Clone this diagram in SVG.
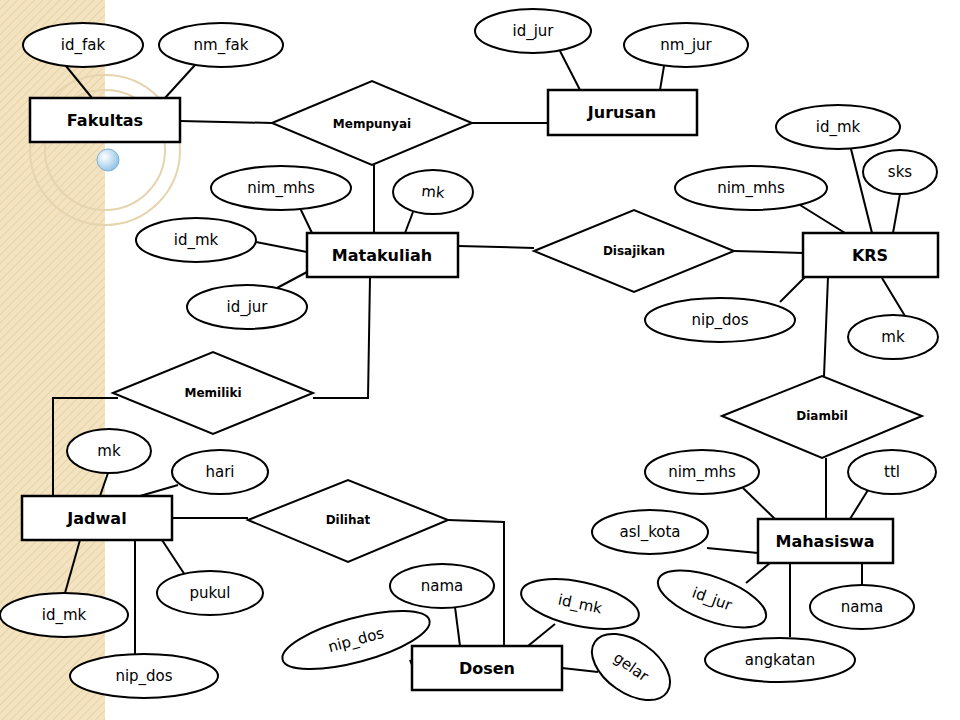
<svg xmlns="http://www.w3.org/2000/svg" width="960" height="720" viewBox="0 0 960 720">
<defs>
<pattern id="hatch" width="6" height="6" patternUnits="userSpaceOnUse" patternTransform="rotate(45)">
<rect width="6" height="6" fill="#f3e3c0"/><line x1="0" y1="0" x2="0" y2="6" stroke="#e8d3a6" stroke-width="2"/>
</pattern>
<radialGradient id="bub" cx="0.35" cy="0.35" r="0.7"><stop offset="0" stop-color="#ffffff"/><stop offset="1" stop-color="#8fc3e6"/></radialGradient>
</defs>
<style>
.ent{fill:#fff;stroke:#000;stroke-width:2.5}
.rel{fill:#fff;stroke:#000;stroke-width:2}
.att{fill:#fff;stroke:#000;stroke-width:2}
.et{font-family:"DejaVu Sans",sans-serif;font-weight:bold;font-size:16px;text-anchor:middle;dominant-baseline:central}
.rt{font-family:"DejaVu Sans",sans-serif;font-weight:bold;font-size:12px;text-anchor:middle;dominant-baseline:central}
.at{font-family:"DejaVu Sans",sans-serif;font-size:15px;text-anchor:middle;dominant-baseline:central}
#connectors line,#connectors polyline{stroke:#000;stroke-width:2;fill:none}
</style>
<rect width="960" height="720" fill="#fff"/>
<rect x="0" y="0" width="105" height="720" fill="url(#hatch)"/>
<g fill="none" stroke="#e6d4ae" stroke-width="2">
<circle cx="105" cy="150" r="75"/><circle cx="105" cy="150" r="60"/>
</g>
<circle cx="108" cy="160" r="11" fill="url(#bub)" stroke="#7fb0d6"/>
<g id="connectors">
<line x1="66" y1="66" x2="92" y2="98"/><line x1="195" y1="65" x2="165" y2="98"/>
<line x1="180" y1="121" x2="272" y2="123"/><line x1="472" y1="123" x2="548" y2="123"/>
<line x1="560" y1="51" x2="580" y2="90"/><line x1="664" y1="66" x2="660" y2="90"/>
<line x1="374" y1="165" x2="374" y2="233"/>
<line x1="413" y1="212" x2="405" y2="233"/><line x1="300" y1="208" x2="312" y2="233"/>
<line x1="256" y1="242" x2="307" y2="252"/><line x1="277" y1="288" x2="307" y2="272"/>
<line x1="458" y1="246" x2="534" y2="248"/><line x1="734" y1="251" x2="803" y2="253"/>
<line x1="851" y1="149" x2="872" y2="233"/><line x1="900" y1="194" x2="893" y2="233"/>
<line x1="800" y1="205" x2="845" y2="233"/><line x1="780" y1="302" x2="805" y2="277"/>
<line x1="882" y1="278" x2="905" y2="316"/><line x1="828" y1="277" x2="824" y2="376"/>
<line x1="826" y1="458" x2="826" y2="519"/>
<line x1="743" y1="488" x2="775" y2="519"/><line x1="868" y1="490" x2="850" y2="519"/>
<line x1="707" y1="548" x2="758" y2="553"/><line x1="746" y1="583" x2="770" y2="563"/>
<line x1="790" y1="637" x2="790" y2="563"/><line x1="862" y1="585" x2="862" y2="563"/>
<polyline points="370,277 368,398 313,398"/>
<polyline points="118,398 53,398 53,496"/>
<line x1="108" y1="473" x2="100" y2="496"/><line x1="178" y1="485" x2="140" y2="496"/>
<line x1="172" y1="518" x2="248" y2="518"/>
<line x1="185" y1="575" x2="162" y2="540"/><line x1="65" y1="593" x2="80" y2="540"/>
<line x1="135" y1="654" x2="135" y2="540"/>
<polyline points="448,520 504,522 504,646"/>
<line x1="455" y1="607" x2="460" y2="646"/><line x1="555" y1="624" x2="528" y2="646"/>
<line x1="410" y1="660" x2="412" y2="665"/><line x1="598" y1="672" x2="562" y2="668"/>
</g>
<g id="Fakultas"><rect class="ent" x="30" y="98" width="150" height="44"/><text class="et" x="105" y="120">Fakultas</text></g>
<g id="Jurusan"><rect class="ent" x="548" y="90" width="149" height="45"/><text class="et" x="622" y="112">Jurusan</text></g>
<g id="Matakuliah"><rect class="ent" x="307" y="233" width="151" height="44"/><text class="et" x="382" y="255">Matakuliah</text></g>
<g id="KRS"><rect class="ent" x="803" y="233" width="135" height="44"/><text class="et" x="870" y="255">KRS</text></g>
<g id="Jadwal"><rect class="ent" x="22" y="496" width="150" height="44"/><text class="et" x="97" y="518">Jadwal</text></g>
<g id="Dosen"><rect class="ent" x="412" y="646" width="150" height="44"/><text class="et" x="487" y="668">Dosen</text></g>
<g id="Mahasiswa"><rect class="ent" x="758" y="519" width="135" height="44"/><text class="et" x="825" y="541">Mahasiswa</text></g>
<g id="Mempunyai"><polygon class="rel" points="272,123 372,81 472,123 372,165"/><text class="rt" x="372" y="124">Mempunyai</text></g>
<g id="Disajikan"><polygon class="rel" points="534,251 634,210 734,251 634,292"/><text class="rt" x="634" y="251">Disajikan</text></g>
<g id="Memiliki"><polygon class="rel" points="113,393 213,352 313,393 213,434"/><text class="rt" x="213" y="393">Memiliki</text></g>
<g id="Dilihat"><polygon class="rel" points="248,520 348,480 448,520 348,562"/><text class="rt" x="348" y="520">Dilihat</text></g>
<g id="Diambil"><polygon class="rel" points="722,416 822,376 922,416 822,458"/><text class="rt" x="822" y="416">Diambil</text></g>
<g id="a_id_fak"><ellipse class="att" cx="83" cy="45" rx="60" ry="22"/><text class="at" x="83" y="45">id_fak</text></g>
<g id="a_nm_fak"><ellipse class="att" cx="221" cy="45" rx="62" ry="22"/><text class="at" x="221" y="45">nm_fak</text></g>
<g id="a_id_jur1"><ellipse class="att" cx="533" cy="31" rx="58" ry="22"/><text class="at" x="533" y="31">id_jur</text></g>
<g id="a_nm_jur"><ellipse class="att" cx="686" cy="45" rx="62" ry="22"/><text class="at" x="686" y="45">nm_jur</text></g>
<g id="a_id_mk_krs"><ellipse class="att" cx="838" cy="127" rx="62" ry="22"/><text class="at" x="838" y="127">id_mk</text></g>
<g id="a_sks"><ellipse class="att" cx="900" cy="172" rx="37" ry="22"/><text class="at" x="900" y="172">sks</text></g>
<g id="a_nim_krs"><ellipse class="att" cx="751" cy="188" rx="76" ry="22"/><text class="at" x="751" y="188">nim_mhs</text></g>
<g id="a_nip_krs"><ellipse class="att" cx="720" cy="320" rx="75" ry="22"/><text class="at" x="720" y="320">nip_dos</text></g>
<g id="a_mk_krs"><ellipse class="att" cx="893" cy="337" rx="45" ry="22"/><text class="at" x="893" y="337">mk</text></g>
<g id="a_nim_mk"><ellipse class="att" cx="281" cy="188" rx="70" ry="22"/><text class="at" x="281" y="188">nim_mhs</text></g>
<g id="a_mk"><ellipse class="att" cx="433" cy="192" rx="40" ry="22"/><text class="at" x="433" y="192" transform="rotate(5 433 192)">mk</text></g>
<g id="a_id_mk"><ellipse class="att" cx="196" cy="240" rx="60" ry="22"/><text class="at" x="196" y="240">id_mk</text></g>
<g id="a_id_jur2"><ellipse class="att" cx="247" cy="307" rx="60" ry="22"/><text class="at" x="247" y="307">id_jur</text></g>
<g id="a_mk_j"><ellipse class="att" cx="109" cy="451" rx="42" ry="22"/><text class="at" x="109" y="451">mk</text></g>
<g id="a_hari"><ellipse class="att" cx="220" cy="472" rx="48" ry="22"/><text class="at" x="220" y="472">hari</text></g>
<g id="a_pukul"><ellipse class="att" cx="210" cy="593" rx="53" ry="22"/><text class="at" x="210" y="593">pukul</text></g>
<g id="a_id_mk_j"><ellipse class="att" cx="64" cy="615" rx="64" ry="22"/><text class="at" x="64" y="615">id_mk</text></g>
<g id="a_nip_j"><ellipse class="att" cx="144" cy="676" rx="74" ry="22"/><text class="at" x="144" y="676">nip_dos</text></g>
<g id="a_nama_d"><ellipse class="att" cx="442" cy="586" rx="52" ry="22"/><text class="at" x="442" y="586">nama</text></g>
<g id="a_id_mk_d" transform="rotate(12 580 604)"><ellipse class="att" cx="580" cy="604" rx="60" ry="22"/><text class="at" x="580" y="604">id_mk</text></g>
<g id="a_nip_d" transform="rotate(-15 356 640)"><ellipse class="att" cx="356" cy="640" rx="76" ry="22"/><text class="at" x="356" y="640">nip_dos</text></g>
<g id="a_gelar" transform="rotate(35 631 667)"><ellipse class="att" cx="631" cy="667" rx="44" ry="26"/><text class="at" x="631" y="667">gelar</text></g>
<g id="a_nim_m"><ellipse class="att" cx="702" cy="472" rx="57" ry="22"/><text class="at" x="702" y="472">nim_mhs</text></g>
<g id="a_ttl"><ellipse class="att" cx="892" cy="472" rx="44" ry="22"/><text class="at" x="892" y="472">ttl</text></g>
<g id="a_asl"><ellipse class="att" cx="650" cy="532" rx="58" ry="22"/><text class="at" x="650" y="532">asl_kota</text></g>
<g id="a_id_jur_m" transform="rotate(20 712 599)"><ellipse class="att" cx="712" cy="599" rx="57" ry="22"/><text class="at" x="712" y="599">id_jur</text></g>
<g id="a_nama_m"><ellipse class="att" cx="862" cy="607" rx="52" ry="22"/><text class="at" x="862" y="607">nama</text></g>
<g id="a_angkatan"><ellipse class="att" cx="780" cy="660" rx="75" ry="22"/><text class="at" x="780" y="660">angkatan</text></g>
</svg>
